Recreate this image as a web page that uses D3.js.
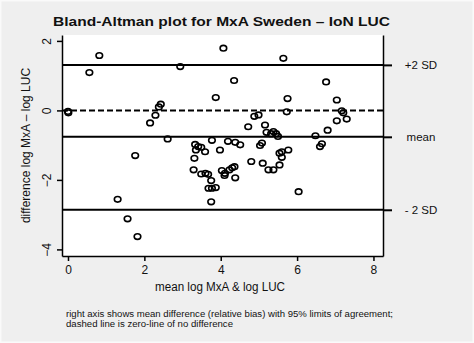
<!DOCTYPE html>
<html>
<head>
<meta charset="utf-8">
<script src="https://cdn.jsdelivr.net/npm/d3@7"></script>
<style>
  html, body { margin: 0; padding: 0; background: #efefef; }
  svg { display: block; }
  text { font-family: "Liberation Sans", Arial, sans-serif; fill: #111; }
</style>
</head>
<body>
<script>
// ---- Data ----
const meanVals = [0.82, 0.56, 0.00, 0.01, 2.43, 2.38, 2.29, 2.15, 2.61, 4.07,
  2.94, 4.35, 3.87, 4.88, 4.99, 4.72, 5.16, 5.20, 5.32, 5.38,
  5.45, 5.50, 3.77, 4.19, 4.38, 4.51, 3.33, 5.08, 5.03, 5.64,
  6.76, 5.75, 5.73, 7.04, 7.17, 7.21, 7.04, 7.30, 6.80, 6.48,
  6.60, 6.65, 3.41, 3.35, 3.49, 3.59, 3.31, 3.98, 3.29, 3.49,
  3.60, 3.67, 4.03, 4.11, 4.10, 4.23, 4.30, 4.36, 4.38, 3.75,
  3.68, 3.77, 3.87, 3.75, 4.80, 5.10, 5.25, 5.38, 5.54, 5.60,
  5.77, 5.60, 5.54, 6.04, 1.76, 1.30, 1.56, 1.82];
const diffVals = [1.58, 1.09, -0.03, -0.07, 0.18, 0.10, -0.14, -0.36, -0.82, 1.79,
  1.26, 0.86, 0.37, -0.17, -0.13, -0.47, -0.42, -0.63, -0.67, -0.61,
  -0.67, -0.75, -0.86, -0.89, -0.92, -0.99, -0.98, -0.94, -1.01, 1.50,
  0.82, 0.34, -0.04, 0.30, -0.01, -0.07, -0.30, -0.25, -0.57, -0.73,
  -1.04, -0.96, -1.04, -1.14, -1.06, -1.19, -1.38, -1.14, -1.71, -1.83,
  -1.81, -1.84, -1.73, -1.81, -1.87, -1.71, -1.65, -1.62, -1.94, -2.02,
  -2.24, -2.24, -2.22, -2.63, -1.47, -1.52, -1.71, -1.71, -1.23, -1.19,
  -1.14, -1.35, -1.57, -2.34, -1.30, -2.56, -3.12, -3.63];
const refValues = [1.31, -0.76, -2.86];          // +2 SD, mean, -2 SD
const refLabels = ["+2 SD", "mean", "- 2 SD"];
const xTicks = [0, 2, 4, 6, 8];
const yTicks = [-4, -2, 0, 2];
const titleText = "Bland-Altman plot for MxA Sweden \u2013 IoN LUC";
const xLabel = "mean log MxA & log LUC";
const yLabel = "difference log MxA \u2013 log LUC";
const noteLines = ["right axis shows mean difference (relative bias) with 95% limits of agreement;",
                   "dashed line is zero-line of no difference"];

const W = 474, H = 343;
const L = 62, R = 383, T = 35, B = 256;

const svg = d3.select("body").append("svg").attr("width", W).attr("height", H);
svg.append("rect").attr("x", 0.75).attr("y", 0.75).attr("width", W - 1.5).attr("height", H - 1.5)
  .attr("fill", "#efefef").attr("stroke", "#fafafa").attr("stroke-width", 1.5);

const x = d3.scaleLinear().domain([-0.157, 8.25]).range([L, R]);
const y = d3.scaleLinear().domain([-4.19, 2.17]).range([B, T]);

// plot area
svg.append("rect").attr("x", L).attr("y", T).attr("width", R - L).attr("height", B - T).attr("fill", "#fff");

// title
svg.append("text").attr("x", 221.5).attr("y", 26).attr("text-anchor", "middle")
  .attr("font-size", 13.5).attr("font-weight", "bold").attr("fill", "#1a1a1a")
  .attr("textLength", 337).attr("lengthAdjust", "spacingAndGlyphs").text(titleText);

// reference lines
svg.append("g").selectAll("line").data(refValues).join("line")
  .attr("x1", L).attr("x2", R).attr("y1", d => y(d)).attr("y2", d => y(d))
  .attr("stroke", "#000").attr("stroke-width", 2);
svg.append("line").attr("x1", L).attr("x2", R).attr("y1", y(0)).attr("y2", y(0))
  .attr("stroke", "#000").attr("stroke-width", 2).attr("stroke-dasharray", "6,3");

// axes
const yAxis = svg.append("g").attr("transform", `translate(${L},0)`)
  .call(d3.axisLeft(y).tickValues(yTicks).tickFormat(d3.format("d")).tickSize(5).tickSizeOuter(0));
yAxis.selectAll("text").attr("font-size", 12).attr("text-anchor", "middle")
  .attr("x", 0).attr("y", 0).attr("dy", "0.35em")
  .attr("transform", "translate(-15,0) rotate(-90)");

const xAxis = svg.append("g").attr("transform", `translate(0,${B})`)
  .call(d3.axisBottom(x).tickValues(xTicks).tickFormat(d3.format("d")).tickSize(5).tickSizeOuter(0).tickPadding(4));
xAxis.selectAll("text").attr("font-size", 12);

const rAxis = svg.append("g").attr("transform", `translate(${R},0)`)
  .call(d3.axisRight(y).tickValues(refValues).tickSize(9).tickSizeOuter(0)
    .tickFormat((d, i) => refLabels[i]));
rAxis.selectAll("text").attr("font-size", 11.5).attr("text-anchor", "middle").attr("x", 38);

svg.selectAll(".domain, .tick line").attr("stroke", "#000").attr("stroke-width", 1.5);
rAxis.selectAll(".tick line").attr("stroke-width", 2);
svg.selectAll(".tick text").attr("fill", "#111").style("font-family", '"Liberation Sans", Arial, sans-serif');

// points
svg.append("g").selectAll("ellipse").data(meanVals.map((m, i) => [m, diffVals[i]])).join("ellipse")
  .attr("cx", d => x(d[0])).attr("cy", d => y(d[1]))
  .attr("rx", 3.3).attr("ry", 2.8)
  .attr("fill", "none").attr("stroke", "#000").attr("stroke-width", 1.6);

// axis titles
svg.append("text").attr("x", 220).attr("y", 291).attr("text-anchor", "middle")
  .attr("font-size", 12).attr("textLength", 130).attr("lengthAdjust", "spacingAndGlyphs").text(xLabel);
svg.append("text").attr("transform", "translate(30,145.5) rotate(-90)").attr("text-anchor", "middle")
  .attr("font-size", 12).text(yLabel);

// note
svg.selectAll(".note").data(noteLines).join("text").attr("class", "note")
  .attr("x", 66).attr("y", (d, i) => 317 + i * 9.5)
  .attr("font-size", 8.5)
  .attr("textLength", (d, i) => i === 0 ? 327 : 167)
  .attr("lengthAdjust", "spacingAndGlyphs").text(d => d);
</script>
</body>
</html>
